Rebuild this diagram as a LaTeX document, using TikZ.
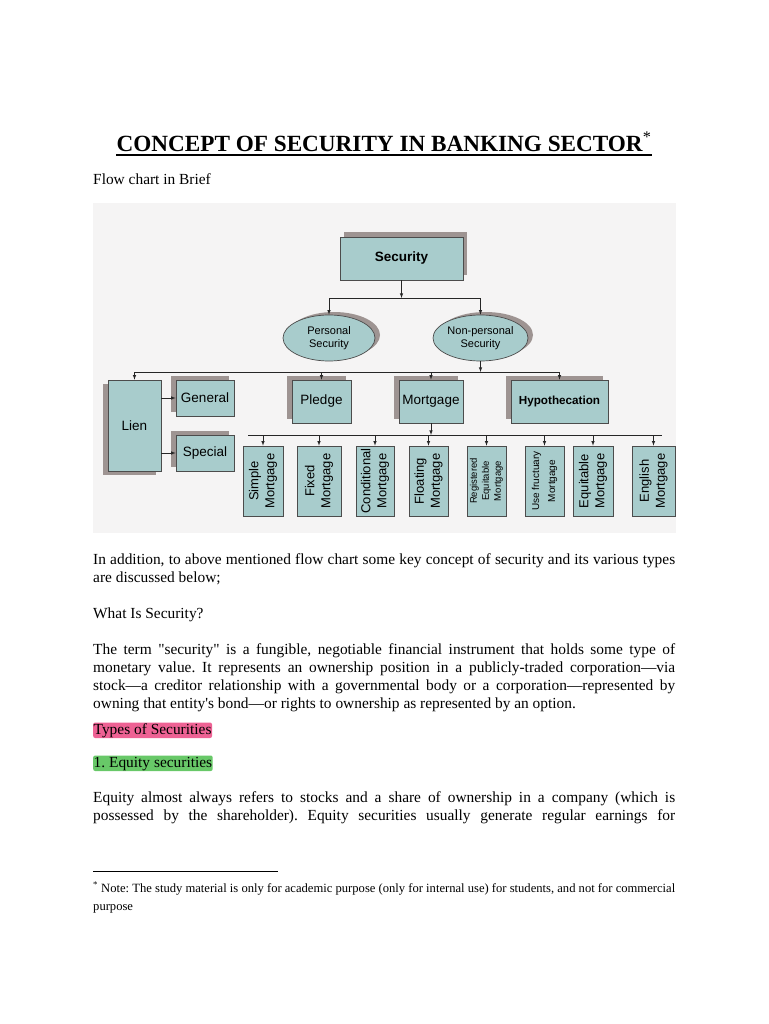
\documentclass[tikz,border=0pt]{standalone}
\usepackage{fontspec}
\setmainfont{Liberation Serif}[Ligatures=TeXOff]
\newfontfamily\chartfont{Liberation Sans}
\usepackage{xcolor}
\usetikzlibrary{arrows}
\usetikzlibrary{shapes.geometric, shadows, math}
\definecolor{boxteal}{RGB}{168,204,204}
\definecolor{shadegray}{RGB}{158,148,146}
\definecolor{chartbg}{RGB}{245,244,244}
\definecolor{markpink}{RGB}{238,98,148}
\definecolor{markgreen}{RGB}{104,200,104}
\frenchspacing

\begin{document}
\begin{tikzpicture}[x=1pt,y=-1pt,
box/.style={draw=black!70, fill=boxteal, line width=0.7pt, inner sep=1pt, align=center, font=\chartfont\fontsize{13.5}{15}\selectfont},
rbox/.style={box, rotate=90, minimum width=70pt, minimum height=#1, font=\chartfont\fontsize{13}{16}\selectfont},
ell/.style={ellipse, draw=black!70, fill=boxteal, line width=0.7pt, inner sep=0pt, minimum height=46pt, align=center, font=\chartfont\fontsize{11}{12.5}\selectfont},
boxshadow/.style n args={2}{general shadow={fill=shadegray, shadow xshift=#1, shadow yshift=#2}},
link/.style={-latex, line width=0.6pt, draw=black!85},
wire/.style={line width=0.6pt, draw=black!85},
txt/.style={anchor=base west, inner sep=0pt, font=\fontsize{15.4}{17.8}\selectfont},
marker/.style={fill=#1, inner xsep=0.5pt, text height=11.5pt, text depth=4pt, rounded corners=2pt}]
\tikzmath{
\tx=93;
\tw=582;
}
%page
\fill[white] (0,0) rectangle (768,1024);
\useasboundingbox (0,0) rectangle (768,1024);

%title
\node[anchor=base, inner sep=0pt, font=\fontsize{23.2}{27}\selectfont\bfseries] (title) at (384,152) {CONCEPT OF SECURITY IN BANKING SECTOR\textsuperscript{\mdseries*}};
\draw[line width=1.6pt] ([yshift=-3pt]title.base west) -- ([yshift=-3pt]title.base east);
\node[txt] (brief) at (\tx,185) {Flow chart in Brief};

%chart
\fill[chartbg] (93,203) rectangle (676,533);

\node[box, boxshadow={4pt}{5pt}, minimum width=123pt, minimum height=43pt, font=\chartfont\bfseries\fontsize{13.5}{15}\selectfont] (security) at (401.5,258.5) {Security};
\node[ell, boxshadow={5pt}{3pt}, minimum width=92pt] (personal) at (329,338) {Personal\\Security};
\node[ell, boxshadow={5pt}{3pt}, minimum width=95pt] (nonpersonal) at (480.5,338) {Non-personal\\Security};

\node[box, boxshadow={-5pt}{-4pt}, minimum width=53pt, minimum height=91pt] (lien) at (134.5,425.5) {Lien};
\node[box, boxshadow={-5pt}{4pt}, minimum width=58pt, minimum height=36pt] (general) at (205,398) {General};
\node[box, boxshadow={-5pt}{4pt}, minimum width=58pt, minimum height=36pt] (special) at (205,453) {Special};
\node[box, boxshadow={-5pt}{4pt}, minimum width=59pt, minimum height=43pt] (pledge) at (321.5,401.5) {Pledge};
\node[box, boxshadow={-5pt}{4pt}, minimum width=64pt, minimum height=43pt] (mortgage) at (431,401.5) {Mortgage};
\node[box, boxshadow={-5pt}{4pt}, minimum width=97pt, minimum height=43pt, font=\chartfont\bfseries\fontsize{11.7}{14}\selectfont] (hypothecation) at (559.5,401.5) {Hypothecation};

\node[rbox=40pt] (simple) at (263,481) {Simple\\Mortgage};
\node[rbox=44pt] (fixed) at (319,481) {Fixed\\Mortgage};
\node[rbox=38pt] (conditional) at (375,481) {Conditional\\Mortgage};
\node[rbox=39pt] (floating) at (428.5,481) {Floating\\Mortgage};
\node[rbox=39pt, font=\chartfont\fontsize{9.5}{12}\selectfont] (registered) at (486.5,481) {Registered\\Equitable\\Mortgage};
\node[rbox=39pt, font=\chartfont\fontsize{10}{16}\selectfont] (usufruct) at (544.5,481) {Use fructuary\\Mortgage};
\node[rbox=40pt] (equitable) at (593,481) {Equitable\\Mortgage};
\node[rbox=43pt] (english) at (653.5,481) {English\\Mortgage};

%connectors
\coordinate (bus1) at (0,298);
\coordinate (bus2) at (0,372);
\coordinate (bus3) at (0,435);
\coordinate (busleft) at (248,435);
\coordinate (busright) at (662,435);

\draw[link] (security.south) -- (security.south |- bus1);
\draw[wire] (personal.north |- bus1) -- (nonpersonal.north |- bus1);
\draw[link] (personal.north |- bus1) -- (personal.north);
\draw[link] (nonpersonal.north |- bus1) -- (nonpersonal.north);

\draw[link] (nonpersonal.south) -- (nonpersonal.south |- bus2);
\draw[wire] (lien.north |- bus2) -- (hypothecation.north |- bus2);
\foreach \n in {lien,pledge,mortgage,hypothecation}
  \draw[link] (\n.north |- bus2) -- (\n.north);
\draw[link] (lien.east |- general) -- (general.west);
\draw[link] (lien.east |- special) -- (special.west);

\draw[link] (mortgage.south) -- (mortgage.south |- bus3);
\draw[wire] (busleft) -- (busright);
\foreach \n in {simple,fixed,conditional,floating,registered,usufruct,equitable,english}
  \draw[link] (\n.east |- bus3) -- (\n.east);

%text
\node[txt] (intro1) at (\tx,564) {\makebox[\tw pt][s]{In addition, to above mentioned flow chart some key concept of security and its various types}};
\node[txt] (intro2) at (\tx,582) {are discussed below;};
\node[txt] (whatis) at (\tx,618) {What Is Security?};
\node[txt] (term1) at (\tx,654) {\makebox[\tw pt][s]{The term "security" is a fungible, negotiable financial instrument that holds some type of}};
\node[txt] (term2) at (\tx,672) {\makebox[\tw pt][s]{monetary value. It represents an ownership position in a publicly-traded corporation—via}};
\node[txt] (term3) at (\tx,690) {\makebox[\tw pt][s]{stock—a creditor relationship with a governmental body or a corporation—represented by}};
\node[txt] (term4) at (\tx,708) {owning that entity's bond—or rights to ownership as represented by an option.};

\node[txt, marker=markpink] (types) at (\tx,734) {Types of Securities};
\node[txt, marker=markgreen] (equity) at (\tx,767) {1. Equity securities};

\node[txt] (eq1) at (\tx,802) {\makebox[\tw pt][s]{Equity almost always refers to stocks and a share of ownership in a company (which is}};
\node[txt] (eq2) at (\tx,820) {\makebox[\tw pt][s]{possessed by the shareholder). Equity securities usually generate regular earnings for}};

%footnote
\draw[line width=0.6pt] (\tx,871) -- (278,871);
\node[txt, font=\fontsize{12.6}{15}\selectfont] (note1) at (\tx,892) {\makebox[\tw pt][s]{\textsuperscript{*} Note: The study material is only for academic purpose (only for internal use) for students, and not for commercial}};
\node[txt, font=\fontsize{12.6}{15}\selectfont] (note2) at (\tx,910) {purpose};
\end{tikzpicture}
\end{document}
